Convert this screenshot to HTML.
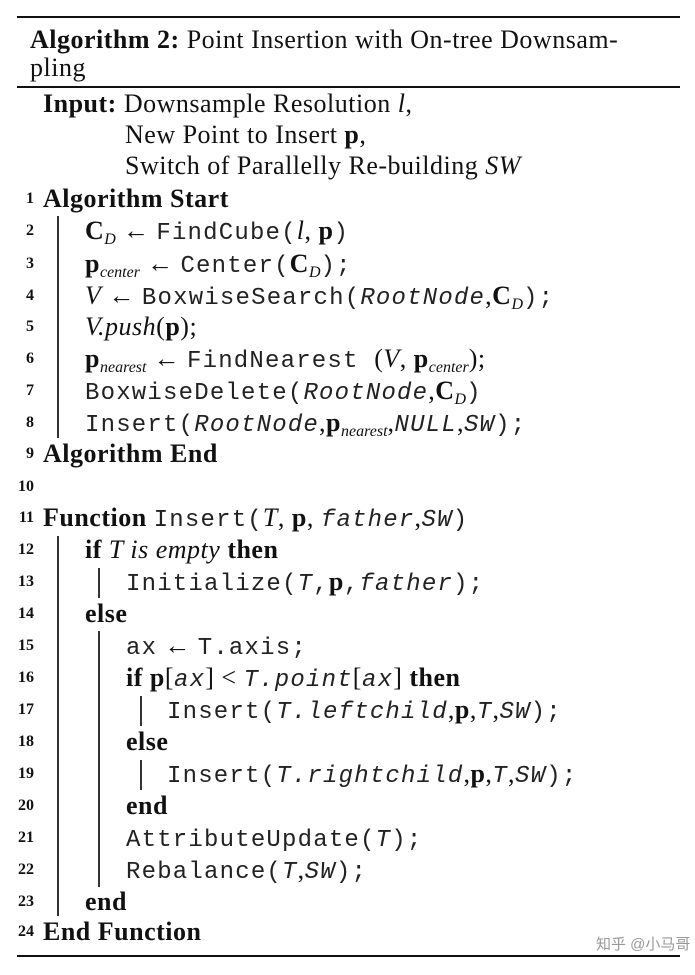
<!DOCTYPE html>
<html><head><meta charset="utf-8"><style>
body{margin:0;width:695px;height:975px;background:#fff;position:relative;overflow:hidden;font-family:"Liberation Serif",serif;color:#111;}
.l{position:absolute;height:30px;line-height:30px;font-size:26px;letter-spacing:0.5px;white-space:nowrap;}
.n{position:absolute;width:34px;text-align:right;left:0;font-weight:bold;font-size:16px;height:30px;line-height:30px;}
.m{font-family:"Liberation Mono",monospace;font-size:24px;letter-spacing:1.2px;color:#222;}
.mi{font-family:"Liberation Mono",monospace;font-size:24px;font-style:italic;letter-spacing:1.2px;color:#222;}
b{font-weight:bold;}
i{font-style:italic;}
.r{position:absolute;left:17px;width:663px;background:#111;}
.v{position:absolute;width:1.5px;background:#333;}
sub{font-size:16px;font-style:italic;vertical-align:-5px;line-height:0;letter-spacing:0;}
</style></head><body>
<div class="r" style="top:16px;height:2px"></div>
<div class="l" style="left:30px;top:25px"><b>Algorithm 2:</b> Point Insertion with On-tree Downsam-</div>
<div class="l" style="left:30px;top:53px">pling</div>
<div class="r" style="top:86px;height:1.5px"></div>
<div class="l" style="left:43px;top:89px"><b>Input:</b> Downsample Resolution <i>l</i>,</div>
<div class="l" style="left:125px;top:120px">New Point to Insert <b>p</b>,</div>
<div class="l" style="left:125px;top:151px">Switch of Parallelly Re-building <i>SW</i></div>

<div class="n" style="top:184px">1</div><div class="l" style="left:43px;top:184px"><b>Algorithm Start</b></div>
<div class="n" style="top:216px">2</div><div class="l" style="left:85px;top:216px"><b>C</b><sub>D</sub> ← <span class="m">FindCube(</span><i>l</i>, <b>p</b><span class="m">)</span></div>
<div class="n" style="top:249px">3</div><div class="l" style="left:85px;top:249px"><b>p</b><sub>center</sub> ← <span class="m">Center(</span><b>C</b><sub>D</sub><span class="m">);</span></div>
<div class="n" style="top:281px">4</div><div class="l" style="left:85px;top:281px"><i>V</i> ← <span class="m">BoxwiseSearch(</span><span class="mi">RootNode</span>,<b>C</b><sub>D</sub><span class="m">);</span></div>
<div class="n" style="top:312px">5</div><div class="l" style="left:85px;top:312px"><i>V.push</i>(<b>p</b>);</div>
<div class="n" style="top:344px">6</div><div class="l" style="left:85px;top:344px"><b>p</b><sub>nearest</sub> ← <span class="m">FindNearest </span>(<i>V</i>, <b>p</b><sub>center</sub>);</div>
<div class="n" style="top:376px">7</div><div class="l" style="left:85px;top:376px"><span class="m">BoxwiseDelete(</span><span class="mi">RootNode</span>,<b>C</b><sub>D</sub><span class="m">)</span></div>
<div class="n" style="top:408px">8</div><div class="l" style="left:85px;top:408px"><span class="m">Insert(</span><span class="mi">RootNode</span>,<b>p</b><sub>nearest</sub>,<span class="mi">NULL</span>,<span class="mi">SW</span><span class="m">);</span></div>
<div class="n" style="top:439px">9</div><div class="l" style="left:43px;top:439px"><b>Algorithm End</b></div>
<div class="n" style="top:472px">10</div>
<div class="n" style="top:503px">11</div><div class="l" style="left:43px;top:503px"><b>Function</b> <span class="m">Insert(</span><i>T</i>, <b>p</b>, <span class="mi">father</span>,<span class="mi">SW</span><span class="m">)</span></div>
<div class="n" style="top:535px">12</div><div class="l" style="left:85px;top:535px"><b>if</b> <i>T is empty</i> <b>then</b></div>
<div class="n" style="top:567px">13</div><div class="l" style="left:126px;top:567px"><span class="m">Initialize(</span><span class="mi">T</span><span class="m">,</span><b>p</b><span class="m">,</span><span class="mi">father</span><span class="m">);</span></div>
<div class="n" style="top:599px">14</div><div class="l" style="left:85px;top:599px"><b>else</b></div>
<div class="n" style="top:631px">15</div><div class="l" style="left:126px;top:631px"><span class="m">ax</span> ← <span class="m">T.axis;</span></div>
<div class="n" style="top:663px">16</div><div class="l" style="left:126px;top:663px"><b>if</b> <b>p</b>[<span class="mi">ax</span>] &lt; <span class="mi">T.point</span>[<span class="mi">ax</span>] <b>then</b></div>
<div class="n" style="top:695px">17</div><div class="l" style="left:167px;top:695px"><span class="m">Insert(</span><span class="mi">T.leftchild</span>,<b>p</b>,<span class="mi">T</span>,<span class="mi">SW</span><span class="m">);</span></div>
<div class="n" style="top:727px">18</div><div class="l" style="left:126px;top:727px"><b>else</b></div>
<div class="n" style="top:759px">19</div><div class="l" style="left:167px;top:759px"><span class="m">Insert(</span><span class="mi">T.rightchild</span>,<b>p</b>,<span class="mi">T</span>,<span class="mi">SW</span><span class="m">);</span></div>
<div class="n" style="top:791px">20</div><div class="l" style="left:126px;top:791px"><b>end</b></div>
<div class="n" style="top:823px">21</div><div class="l" style="left:126px;top:823px"><span class="m">AttributeUpdate(</span><span class="mi">T</span><span class="m">);</span></div>
<div class="n" style="top:855px">22</div><div class="l" style="left:126px;top:855px"><span class="m">Rebalance(</span><span class="mi">T</span>,<span class="mi">SW</span><span class="m">);</span></div>
<div class="n" style="top:887px">23</div><div class="l" style="left:85px;top:887px"><b>end</b></div>
<div class="n" style="top:917px">24</div><div class="l" style="left:43px;top:917px"><b>End Function</b></div>

<div class="v" style="left:57px;top:216px;height:222px"></div>
<div class="v" style="left:57px;top:536px;height:380px"></div>
<div class="v" style="left:98px;top:568px;height:30px"></div>
<div class="v" style="left:98px;top:631px;height:256px"></div>
<div class="v" style="left:140px;top:696px;height:30px"></div>
<div class="v" style="left:140px;top:760px;height:30px"></div>

<div class="r" style="top:955px;height:2px"></div>
<div style="position:absolute;left:596px;top:933px;font-size:15px;white-space:nowrap;color:#999;font-family:'Liberation Sans','Noto Sans CJK SC',sans-serif;">知乎 @小马哥</div>
</body></html>
